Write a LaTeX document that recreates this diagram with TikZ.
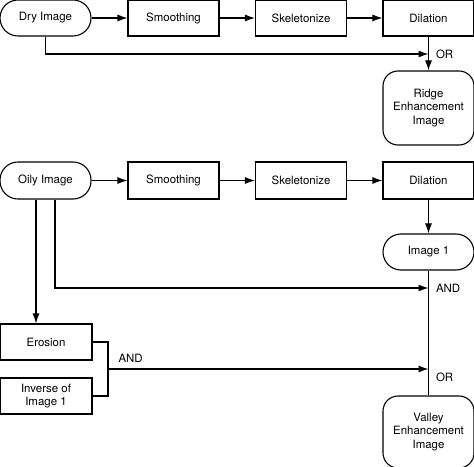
\documentclass[tikz,border=0pt]{standalone}
\usepackage{fontspec}
\setmainfont{TeX Gyre Heros}
\usetikzlibrary{arrows.meta, positioning}

\tikzset{
  procbox/.style={draw, rectangle, minimum width=91bp, minimum height=36bp, inner sep=2bp},
  termbox/.style={procbox, rounded corners=18bp},
  resbox/.style={procbox, rounded corners=15bp, align=center},
  flow/.style={->},
  gate/.style={font=\fontsize{11.5}{13}\selectfont, inner sep=0pt}
}

\begin{document}
\begin{tikzpicture}[x=1bp, y=-1bp, >={Latex[length=10bp,width=7bp]}, line width=1.1bp,
    font=\fontsize{11.5}{13.5}\selectfont]

    \useasboundingbox (0,0) rectangle (474,467);

    % ------------------------------------------------------------------
    % 1. Ridge branch (dry image)
    % ------------------------------------------------------------------
    \node[termbox] (dry)     at (45.5,18) {Dry Image};
    \node[procbox] (smooth1) at (173.5,18) {Smoothing};
    \node[procbox] (skel1)   at (301,18) {Skeletonize};
    \node[procbox] (dil1)    at (428.5,18) {Dilation};
    \node[resbox, minimum height=74bp] (ridge) at (428.5,108)
        {Ridge\\Enhancement\\Image};

    \draw[flow] (dry) -- (smooth1);
    \draw[flow] (smooth1) -- (skel1);
    \draw[flow] (skel1) -- (dil1);
    \draw[flow] (dil1) -- (ridge);

    % dry image goes round the chain straight to the result
    \coordinate (or1) at (428.5,54);
    \draw[flow] (dry.south) |- (or1);
    \node[gate, right=7bp of or1] (orlab1) {OR};

    % ------------------------------------------------------------------
    % 2. Valley branch (oily image)
    % ------------------------------------------------------------------
    \node[termbox, minimum height=37bp] (oily) at (45.5,180.5) {Oily Image};
    \node[procbox, minimum height=37bp] (smooth2) at (173.5,180.5) {Smoothing};
    \node[procbox, minimum height=37bp] (skel2)   at (301,180.5) {Skeletonize};
    \node[procbox, minimum height=37bp] (dil2)    at (428.5,180.5) {Dilation};
    \node[termbox] (img1) at (428.5,252) {Image 1};

    \draw[flow] (oily) -- (smooth2);
    \draw[flow] (smooth2) -- (skel2);
    \draw[flow] (skel2) -- (dil2);
    \draw[flow] (dil2) -- (img1);

    \node[procbox, minimum width=92bp] (erosion) at (46,342) {Erosion};
    \node[procbox, minimum width=92bp, align=center] (inverse) at (46,396)
        {Inverse of\\Image 1};
    \node[resbox, minimum height=72bp] (valley) at (428.5,432)
        {Valley\\Enhancement\\Image};

    % Image 1 runs down to the valley result
    \draw (img1) -- (valley);

    % oily image AND image 1
    \coordinate (and1) at (428.5,288);
    \draw[flow] ([xshift=9.5bp]oily.south) |- (and1);
    \node[gate, right=7bp of and1] (andlab1) {AND};

    % erosion AND inverse, then OR into the result
    \draw[flow] ([xshift=-9.5bp]oily.south) -- ([xshift=-9.5bp]oily.south |- erosion.north);
    \coordinate (join) at (108,369);
    \coordinate (or2) at (428.5,369);
    \draw (erosion.east) -| (join) |- (inverse.east);
    \draw[flow] (join) -- (or2);
    \node[gate, above right=6bp and 10bp of join] (andlab2) {AND};
    \node[gate, below right=3bp and 7bp of or2] (orlab2) {OR};

\end{tikzpicture}
\end{document}
